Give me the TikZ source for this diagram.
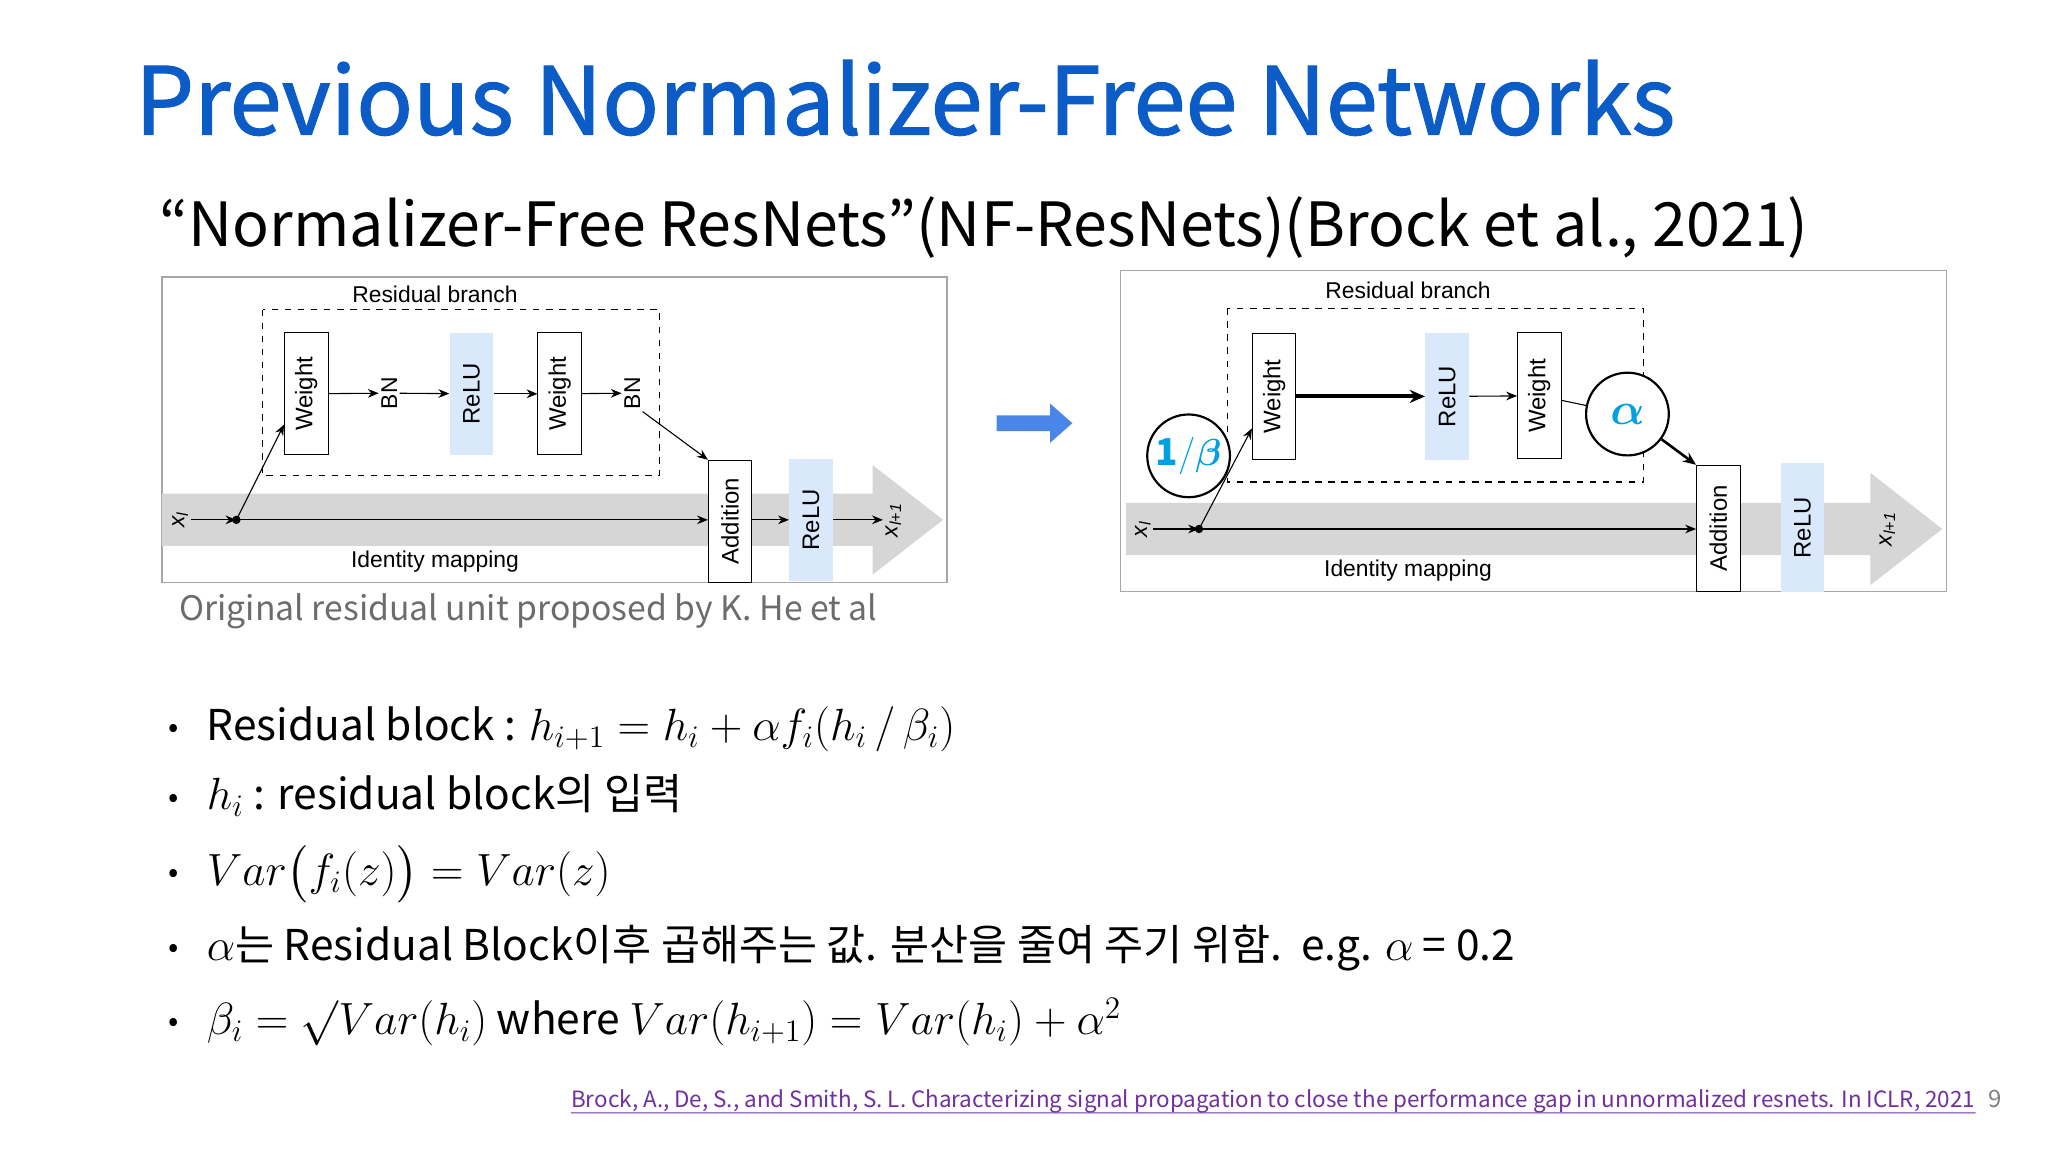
\documentclass[tikz,border=0pt]{standalone}
\usepackage{amsmath,amssymb}
\usepackage{fontspec}
\setmainfont{Noto Sans CJK KR}
\newfontfamily\tfont[FakeBold=1.3]{Noto Sans CJK KR}
\newfontfamily\dfont{Liberation Sans}
\usetikzlibrary{arrows.meta,shapes.geometric}
\definecolor{ttl}{RGB}{12,92,200}
\definecolor{lblue}{RGB}{218,232,252}
\definecolor{band}{RGB}{214,214,214}
\definecolor{cy}{RGB}{0,160,225}
\definecolor{barrow}{RGB}{74,134,232}
\definecolor{lnk}{RGB}{112,48,160}
\newcommand\rt[1]{\rotatebox{90}{#1}}
\newcommand\mm[1]{{\fontsize{22}{22}\selectfont$#1$}}
\begin{document}
\begin{tikzpicture}[x=0.6pt,y=-0.6pt,
  wbox/.style={draw,fill=white,minimum width=20pt,minimum height=56pt,inner sep=0pt,font=\dfont\fontsize{11}{11}\selectfont},
  rbox/.style={fill=lblue,minimum width=20pt,minimum height=56pt,inner sep=0pt,font=\dfont\fontsize{11}{11}\selectfont},
  dlab/.style={font=\dfont\fontsize{10.5}{11}\selectfont,inner sep=1pt},
  arr/.style={-{Stealth[length=5pt,width=4pt]},line width=0.5pt},
  circ/.style={circle,draw,line width=1pt,fill=white,minimum size=38pt,inner sep=0pt,text=cy},
  bul/.style={anchor=base west,font=\fontsize{19.5}{20}\selectfont,inner sep=0pt}]
\useasboundingbox (0,0) rectangle (1568,882);
\fill[white] (0,0) rectangle (1568,882);
\node[anchor=base west,text=ttl,font=\tfont\fontsize{43}{43}\selectfont,inner sep=0pt] (title) at (103,103) {Previous Normalizer-Free Networks};
\node[anchor=base west,font=\fontsize{28}{28}\selectfont,inner sep=0pt] (sub) at (122,189) {“Normalizer-Free ResNets”(NF-ResNets)(Brock et al., 2021)};
% ---------- left diagram
\draw[gray!70,line width=0.6pt] (124,212) rectangle (725,446);
\fill[band] (124,378) -- (668,378) -- (668,356) -- (722,398) -- (668,440) -- (668,418) -- (124,418) -- cycle;
\node[dlab] (lrb) at (333,225) {Residual branch};
\draw[dashed,line width=0.5pt] (201,237) rectangle (505,364);
\node[wbox] (lw1) at (234.5,301.5) {\rt{Weight}};
\node[dlab] (lbn1) at (298,301) {\rt{BN}};
\node[rbox] (lr1) at (361,301.5) {\rt{ReLU}};
\node[wbox] (lw2) at (428.5,301.5) {\rt{Weight}};
\node[dlab] (lbn2) at (484,301) {\rt{BN}};
\node[wbox,minimum height=56pt] (ladd) at (559,399) {\rt{Addition}};
\node[rbox] (lr2) at (621,398) {\rt{ReLU}};
\node[dlab] (lxl) at (138,398) {\rt{\itshape x\textsubscript{l}}};
\fill (181,398) circle (3.2) coordinate (ldot);
\node[dlab,anchor=west] (lxl1) at (676,398) {\rt{\itshape x\textsubscript{l+1}}};
\node[dlab] (lim) at (333,430) {Identity mapping};
\draw[arr] (lxl) -- (ldot);
\draw[arr] (ldot) -- (ladd.west|-ldot);
\draw[arr] (ldot) -- (lw1.south west|-0,325);
\draw[arr] (lw1) -- (lbn1);
\draw[arr] (lbn1) -- (lr1);
\draw[arr] (lr1) -- (lw2);
\draw[arr] (lw2) -- (lbn2);
\draw[arr] (lbn2.south east) -- (ladd.north west);
\draw[arr] (ladd.east|-ldot) -- (lr2.west|-ldot);
\draw[arr] (lr2.east|-ldot) -- (lxl1.west|-ldot);
\node[anchor=base west,text=gray!85!black,font=\fontsize{15.5}{16}\selectfont,inner sep=0pt] (cap) at (137,475) {Original residual unit proposed by K. He et al};
% ---------- blue arrow
\fill[barrow] (763,318) -- (804,318) -- (804,309) -- (821,324) -- (804,339) -- (804,330) -- (763,330) -- cycle;
% ---------- right diagram
\draw[gray!70,line width=0.6pt] (858,207) rectangle (1490,453);
\fill[band] (862,385) -- (1432,385) -- (1432,362) -- (1487,405) -- (1432,448) -- (1432,425) -- (862,425) -- cycle;
\node[dlab] (rrb) at (1078,222) {Residual branch};
\draw[dashed,line width=0.5pt] (940,236) rectangle (1258,369);
\node[wbox,minimum height=58pt] (rw1) at (975.5,303.5) {\rt{Weight}};
\node[rbox,minimum height=58pt] (rr1) at (1108,303.5) {\rt{ReLU}};
\node[wbox,minimum height=58pt] (rw2) at (1178.5,303) {\rt{Weight}};
\node[wbox,minimum height=58pt] (radd) at (1315.5,404.5) {\rt{Addition}};
\node[rbox,minimum height=59pt] (rr2) at (1380,404) {\rt{ReLU}};
\node[dlab] (rxl) at (875,405) {\rt{\itshape x\textsubscript{l}}};
\fill (918,405) circle (3.2) coordinate (rdot);
\node[dlab,anchor=west] (rxl1) at (1437,405) {\rt{\itshape x\textsubscript{l+1}}};
\node[dlab] (rim) at (1078,437) {Identity mapping};
\draw[arr] (rxl) -- (rdot);
\draw[arr] (rdot) -- (radd.west|-rdot);
\draw[arr] (rdot) -- (rw1.west|-0,328);
\draw[-{Stealth[length=7pt,width=6pt]},line width=1.8pt] (rw1) -- (rr1);
\draw[arr] (rr1) -- (rw2);
\node[circ,font=\fontsize{22}{22}\selectfont] (alpha) at (1246,317) {$\boldsymbol{\alpha}$};
\node[circ,font=\fontsize{17}{17}\selectfont] (beta) at (910,349) {$\mathbf{1}/\boldsymbol{\beta}$};
\draw[line width=0.5pt] (rw2) -- (alpha);
\draw[-{Stealth[length=6pt,width=5pt]},line width=1.2pt] (alpha) -- (radd.north west);
% ---------- bullets
\foreach \y/\n in {567/b1,620/b2,678/b3,735/b4,792/b5}{\node[font=\fontsize{14}{14}\selectfont,inner sep=0pt] (\n) at (133,\y-7) {•};}
\node[bul] (t1) at (158,567) {Residual block : \mm{h_{i+1} = h_i + \alpha f_i(h_i\,/\,\beta_i)}};
\node[bul] (t2) at (158,620) {\mm{h_i} : residual block의 입력};
\node[bul] (t3) at (158,678) {\mm{Var\big(f_i(z)\big) = Var(z)}};
\node[bul] (t4) at (158,735) {\mm{\alpha}는 Residual Block이후 곱해주는 값. 분산을 줄여 주기 위함.\ \ e.g. \mm{\alpha} = 0.2};
\node[bul] (t5) at (158,792) {\mm{\beta_i = \surd Var(h_i)} where \mm{Var(h_{i+1}) = Var(h_i) + \alpha^2}};
% ---------- footer
\node[anchor=base west,text=lnk,font=\fontsize{10.3}{11}\selectfont,inner sep=0pt] (ref) at (437,848) {Brock, A., De, S., and Smith, S. L. Characterizing signal propagation to close the performance gap in unnormalized resnets. In ICLR, 2021};
\draw[lnk,line width=0.5pt] (ref.base west)++(0,4) -- ([yshift=-2.4pt]ref.base east);
\node[anchor=base west,text=gray,font=\fontsize{11}{11}\selectfont,inner sep=0pt] (pg) at (1522,848) {9};
\end{tikzpicture}
\end{document}
